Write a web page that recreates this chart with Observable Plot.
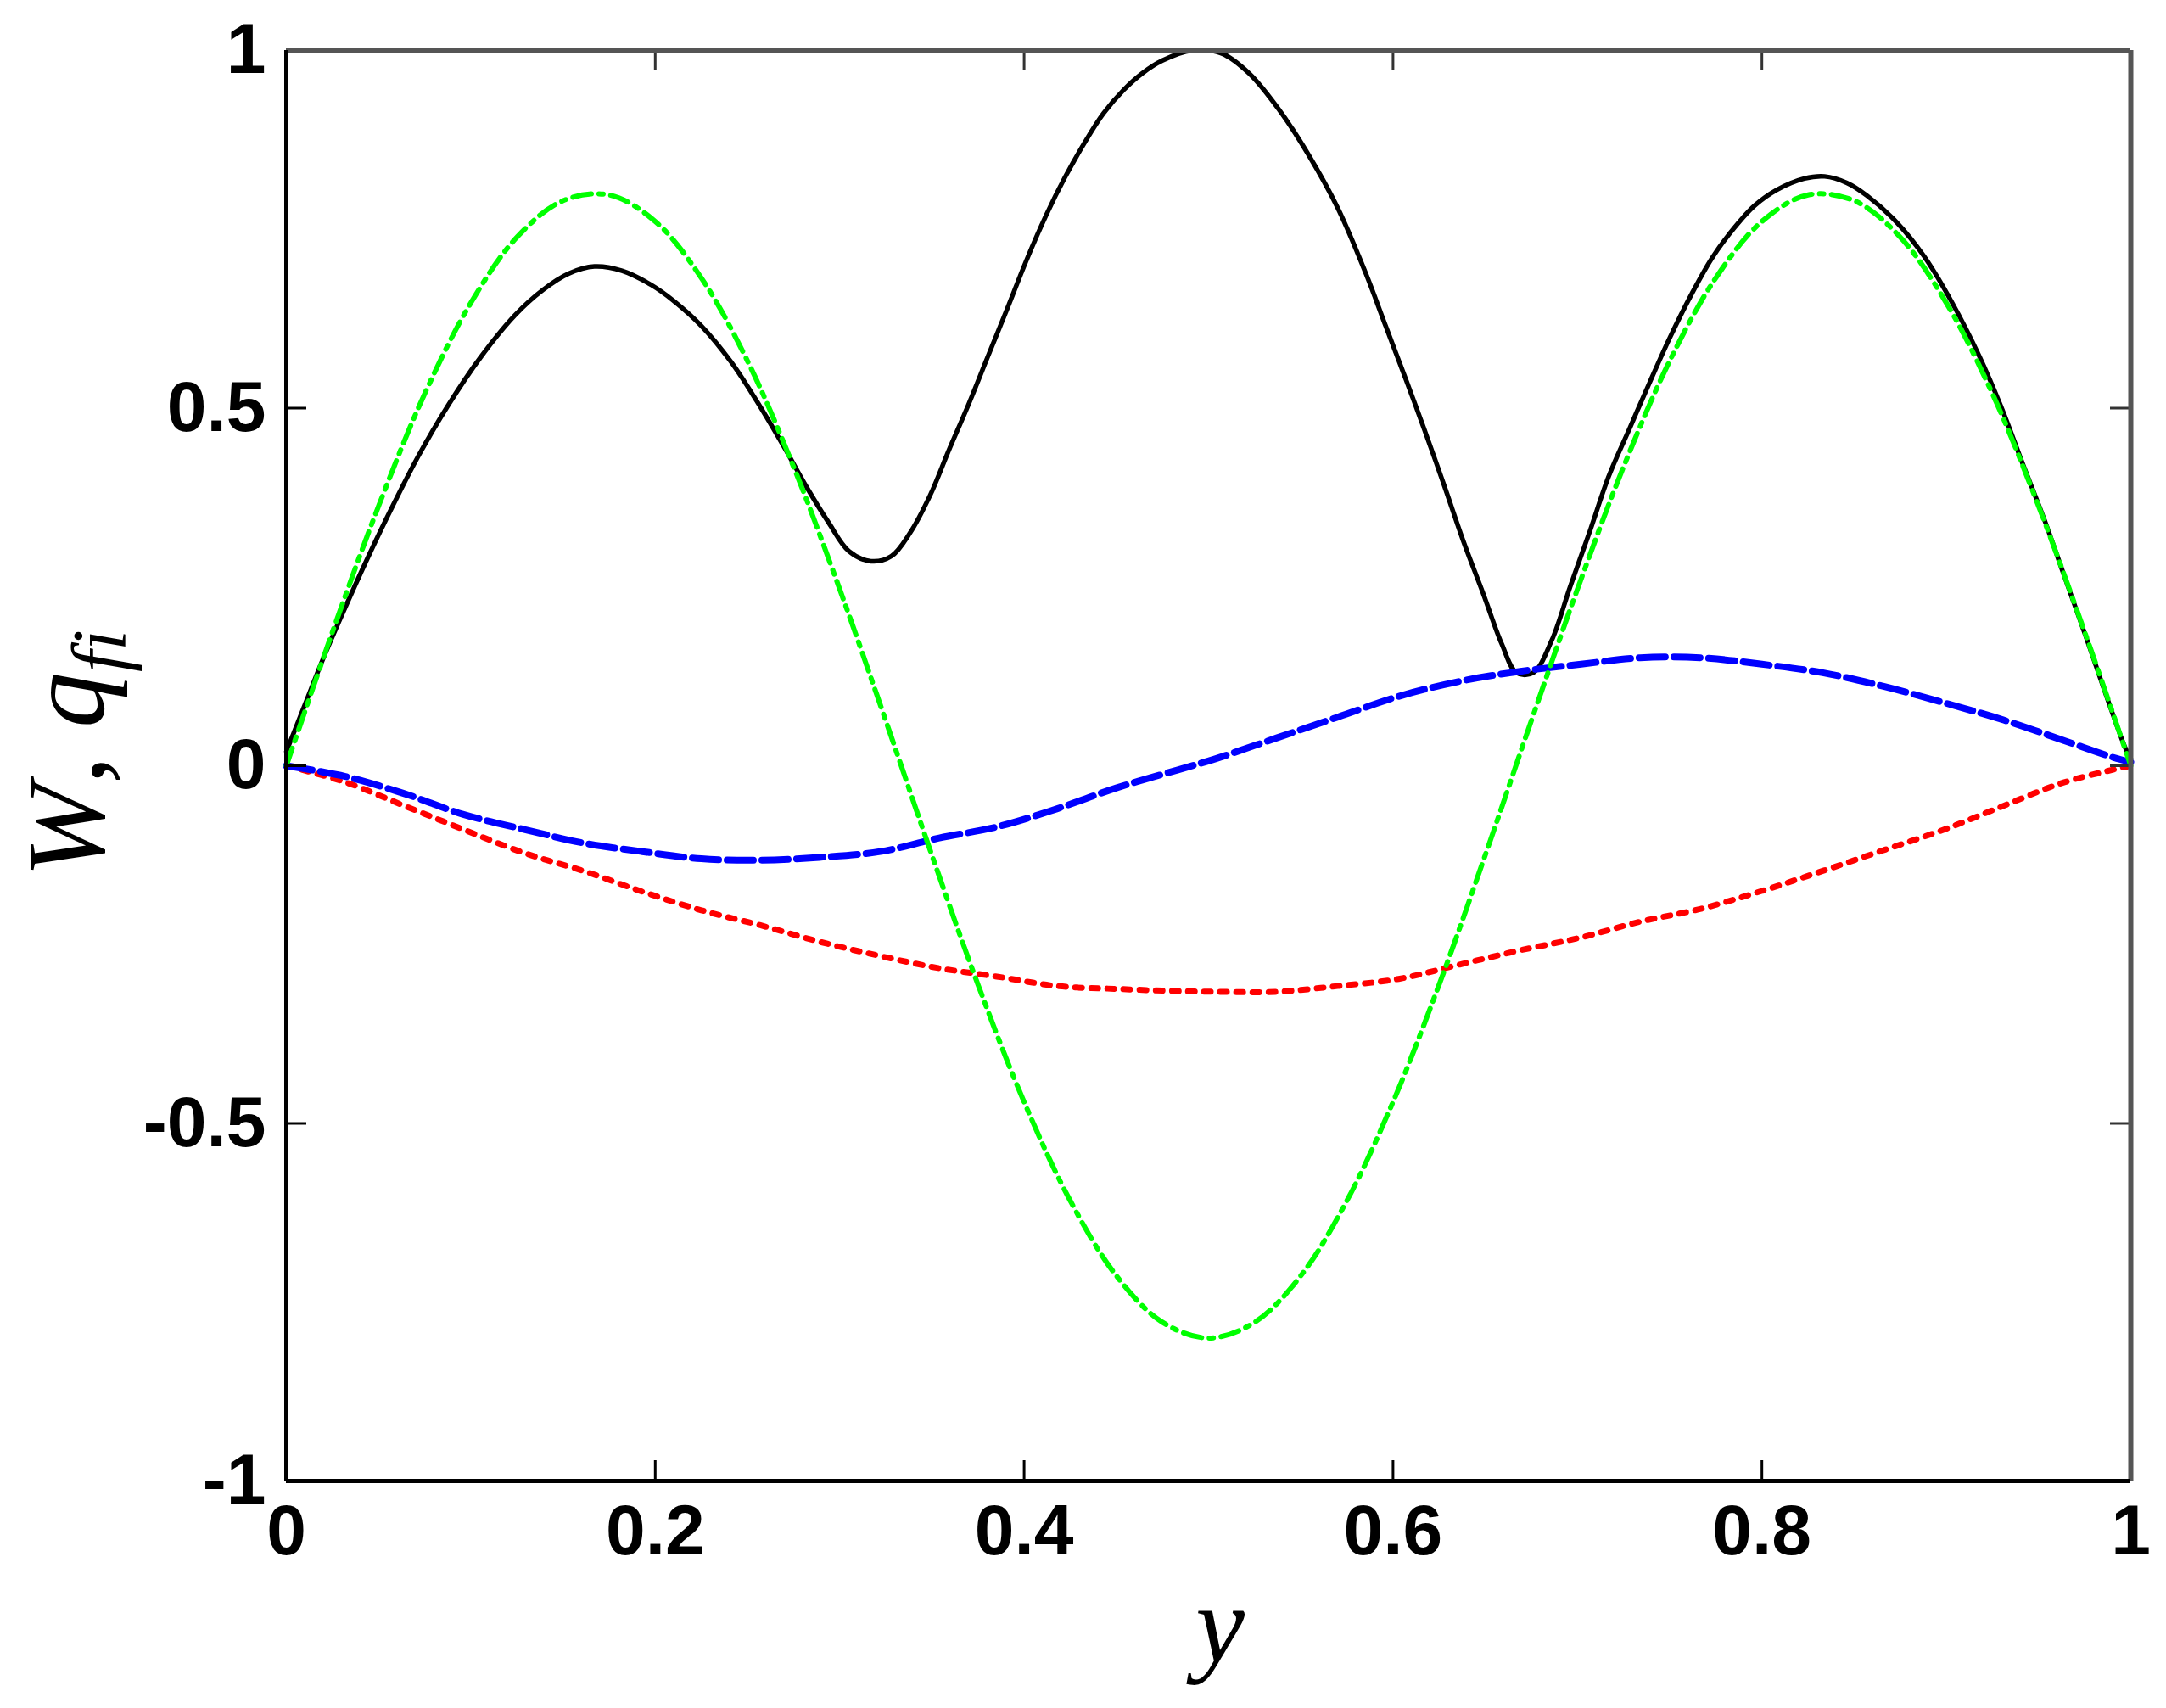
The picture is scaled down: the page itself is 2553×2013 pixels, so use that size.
<!DOCTYPE html>
<html>
<head>
<meta charset="utf-8">
<script src="https://cdn.jsdelivr.net/npm/d3@7"></script>
<script src="https://cdn.jsdelivr.net/npm/@observablehq/plot@0.6"></script>
<style>
  html, body { margin: 0; padding: 0; background: #fff; }
  #chart svg { display: block; }
</style>
</head>
<body>
<div id="chart"></div>
<script>
// ---- tick values ----
const xTicks = [0, 0.2, 0.4, 0.6, 0.8, 1];
const yTicks = [-1, -0.5, 0, 0.5, 1];

// ---- black solid curve W (y, value) ----
const wCurve = [
  [0,0.02],[0.01,0.085],[0.02,0.15],[0.03,0.21],[0.044,0.29],[0.058,0.365],[0.072,0.435],
  [0.088,0.505],[0.105,0.57],[0.124,0.63],[0.139,0.665],[0.153,0.688],[0.167,0.698],
  [0.182,0.692],[0.198,0.672],[0.21,0.65],[0.225,0.615],[0.241,0.565],[0.255,0.51],
  [0.27,0.445],[0.282,0.39],[0.294,0.34],[0.305,0.3],[0.317,0.286],[0.328,0.293],
  [0.338,0.325],[0.349,0.378],[0.359,0.44],[0.37,0.506],[0.38,0.57],[0.391,0.64],
  [0.401,0.705],[0.412,0.77],[0.422,0.822],[0.433,0.872],[0.443,0.912],[0.454,0.945],
  [0.464,0.968],[0.475,0.986],[0.491,1.0],[0.507,0.996],[0.522,0.968],[0.538,0.918],
  [0.554,0.855],[0.57,0.78],[0.585,0.69],[0.596,0.615],[0.607,0.54],[0.617,0.47],
  [0.628,0.39],[0.638,0.315],[0.649,0.24],[0.659,0.17],[0.667,0.13],[0.676,0.13],
  [0.686,0.175],[0.696,0.25],[0.707,0.33],[0.717,0.405],[0.728,0.47],[0.739,0.535],
  [0.75,0.598],[0.762,0.66],[0.773,0.71],[0.785,0.752],[0.796,0.783],[0.808,0.805],
  [0.823,0.821],[0.834,0.824],[0.846,0.815],[0.857,0.797],[0.873,0.76],[0.888,0.712],
  [0.903,0.648],[0.918,0.572],[0.93,0.5],[0.941,0.425],[0.953,0.345],[0.964,0.265],
  [0.976,0.178],[0.987,0.096],[0.997,0.025],[1,0.01]
];

// ---- green dash-dot curve ----
const greenY = [0,0.025,0.05,0.075,0.1,0.125,0.15,0.175,0.2,0.225,0.25,0.275,0.3,0.325,0.35,0.375,0.4,0.425,0.45,0.475,0.5,
                0.525,0.55,0.575,0.6,0.625,0.65,0.675,0.7,0.725,0.75,0.775,0.8,0.825,0.85,0.875,0.9,0.925,0.95,0.975,1];
const greenQ = [0,0.187,0.363,0.52,0.647,0.739,0.79,0.798,0.761,0.682,0.566,0.418,0.247,0.063,-0.125,-0.306,-0.47,-0.608,-0.713,-0.778,-0.8,
                -0.778,-0.713,-0.608,-0.47,-0.306,-0.125,0.063,0.247,0.418,0.566,0.682,0.761,0.798,0.79,0.739,0.647,0.52,0.363,0.187,0];

// ---- blue dashed curve ----
const blueCurve = [
  [0,0],[0.032,-0.015],[0.064,-0.039],[0.096,-0.068],[0.129,-0.089],[0.161,-0.108],[0.193,-0.12],
  [0.225,-0.13],[0.257,-0.132],[0.289,-0.128],[0.322,-0.12],[0.354,-0.101],[0.386,-0.085],
  [0.418,-0.06],[0.45,-0.031],[0.483,-0.006],[0.504,0.01],[0.537,0.039],[0.57,0.068],
  [0.603,0.097],[0.636,0.118],[0.669,0.132],[0.702,0.142],[0.734,0.151],[0.767,0.151],
  [0.8,0.142],[0.833,0.13],[0.866,0.111],[0.899,0.088],[0.931,0.064],[0.964,0.035],
  [0.99,0.012],[1,0.005]
];

// ---- red dotted curve ----
const redCurve = [
  [0,0],[0.032,-0.023],[0.064,-0.056],[0.096,-0.089],[0.129,-0.122],[0.161,-0.147],[0.193,-0.176],
  [0.225,-0.202],[0.257,-0.223],[0.289,-0.246],[0.322,-0.266],[0.354,-0.283],[0.386,-0.295],
  [0.418,-0.308],[0.45,-0.312],[0.483,-0.315],[0.504,-0.316],[0.537,-0.316],[0.57,-0.308],
  [0.603,-0.298],[0.636,-0.278],[0.669,-0.258],[0.702,-0.24],[0.734,-0.218],[0.767,-0.2],
  [0.8,-0.175],[0.833,-0.147],[0.866,-0.118],[0.899,-0.089],[0.931,-0.056],[0.964,-0.023],[1,0]
];

const greenCurve = greenY.map((y, i) => [y, greenQ[i]]);

const W = 2553, H = 2013;
const mL = 337, mR = 42, mT = 59, mB = 268;
const fw = W - mL - mR, fh = H - mT - mB;
const tickLen = 24;

const chart = Plot.plot({
  width: W, height: H,
  marginLeft: mL, marginRight: mR, marginTop: mT, marginBottom: mB,
  style: {
    fontFamily: "'Liberation Sans', Arial, sans-serif",
    fontSize: "84px",
    fontWeight: "bold",
    background: "#fff",
    color: "#000"
  },
  x: {domain: [0, 1], ticks: xTicks, tickSize: 0, tickPadding: 27, tickFormat: d => String(d), label: null},
  y: {domain: [-1, 1], ticks: yTicks, tickSize: 0, tickPadding: 24, tickFormat: d => String(d), label: null},
  marks: [
    Plot.line(wCurve, {x: d => d[0], y: d => d[1], stroke: "#000", strokeWidth: 5.5, curve: "catmull-rom"}),
    Plot.line(redCurve, {x: d => d[0], y: d => d[1], stroke: "#ff0000", strokeWidth: 7, strokeDasharray: "8,11", curve: "catmull-rom"}),
    Plot.line(blueCurve, {x: d => d[0], y: d => d[1], stroke: "#0000ff", strokeWidth: 8, strokeDasharray: "31,10", curve: "catmull-rom"}),
    Plot.line(greenCurve, {x: d => d[0], y: d => d[1], stroke: "#00ff00", strokeWidth: 6, strokeDasharray: "22,9,5,9", curve: "catmull-rom"}),
    // inward ticks on all four sides
    Plot.tickX(xTicks, {x: d => d, stroke: "#000", strokeWidth: 3, insetTop: fh - tickLen}),
    Plot.tickX(xTicks, {x: d => d, stroke: "#333", strokeWidth: 3, insetBottom: fh - tickLen}),
    Plot.tickY(yTicks, {y: d => d, stroke: "#000", strokeWidth: 3, insetRight: fw - tickLen}),
    Plot.tickY(yTicks, {y: d => d, stroke: "#333", strokeWidth: 3, insetLeft: fw - tickLen}),
    // box
    Plot.ruleY([1], {stroke: "#555", strokeWidth: 5}),
    Plot.ruleX([1], {stroke: "#555", strokeWidth: 6}),
    Plot.ruleY([-1], {stroke: "#000", strokeWidth: 5}),
    Plot.ruleX([0], {stroke: "#000", strokeWidth: 5})
  ]
});

document.getElementById("chart").appendChild(chart);

const svg = d3.select(chart);
// y-axis title: W, q_fi
const yl = svg.append("text")
  .attr("transform", `translate(122,${mT + fh / 2 - 14}) rotate(-90)`)
  .attr("text-anchor", "middle")
  .style("font-family", "'Liberation Serif', 'Times New Roman', serif")
  .style("font-style", "italic")
  .style("font-weight", "normal")
  .style("font-size", "132px")
  .attr("fill", "#000");
yl.append("tspan").text("W");
yl.append("tspan").style("font-style", "normal").text(", ");
yl.append("tspan").text("q");
yl.append("tspan").attr("dy", 26).style("font-size", "90px").text("fi");

// x-axis title: y
svg.append("text")
  .attr("x", mL + fw / 2 + 14)
  .attr("y", 1958)
  .attr("text-anchor", "middle")
  .style("font-family", "'Liberation Serif', 'Times New Roman', serif")
  .style("font-style", "italic")
  .style("font-weight", "normal")
  .style("font-size", "130px")
  .attr("fill", "#000")
  .text("y");
</script>
</body>
</html>
